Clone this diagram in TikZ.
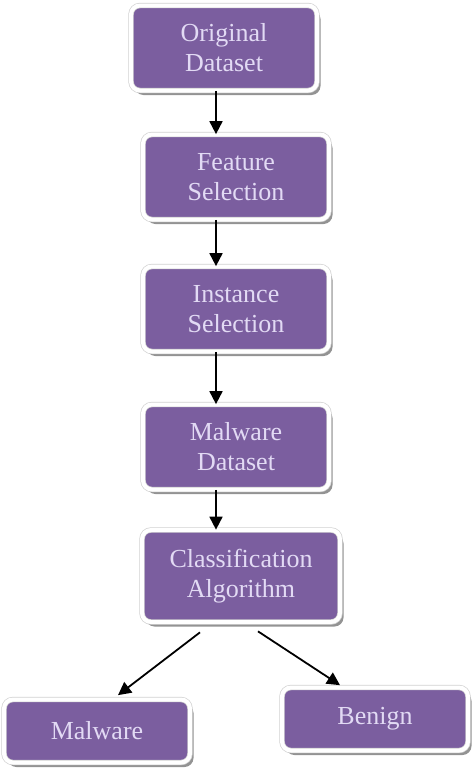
\documentclass[tikz,border=0pt]{standalone}
\usepackage{fontspec}
\setmainfont{Liberation Serif}
\usepackage{tikz}
\usetikzlibrary{arrows.meta, positioning, shadows}
\definecolor{boxpurple}{HTML}{7B5E9F}
\definecolor{boxtext}{HTML}{E2DAF4}

\tikzset{
  stepbox/.style={rectangle, rounded corners=9pt, fill=boxpurple, draw=black!18,
    double=white, double distance=4pt, line width=0.7pt, text=boxtext,
    align=center, inner sep=2pt,
    font=\rmfamily\fontsize{26}{30}\selectfont, minimum width=186pt, minimum height=85pt,
    drop shadow={shadow xshift=3.5pt, shadow yshift=-4.5pt, fill=black!50, opacity=0.85}},
  flowarrow/.style={-{Triangle[length=13pt, width=13pt]}, line width=1.8pt, black}
}

\begin{document}
\begin{tikzpicture}[x=1pt, y=-1pt]
\useasboundingbox (0,0) rectangle (474,771);
\coordinate (axis) at (216,0);
\node[stepbox] (orig) at (224,48) {Original\\Dataset};
\node[stepbox] (feat) at (236,177) {Feature\\Selection};
\node[stepbox] (inst) at (236,309) {Instance\\Selection};
\node[stepbox] (mdata) at (236,447) {Malware\\Dataset};
\node[stepbox, minimum width=198pt, minimum height=92pt] (clf) at (241,576) {Classification\\Algorithm};
\node[stepbox, minimum height=63pt] (mal) at (97,731) {Malware};
\node[stepbox, minimum height=63pt] (ben) at (375,719) {Benign};

\draw[flowarrow] (orig.south -| axis) -- (feat.north -| axis);
\draw[flowarrow] (feat.south -| axis) -- (inst.north -| axis);
\draw[flowarrow] (inst.south -| axis) -- (mdata.north -| axis);
\draw[flowarrow] (mdata.south -| axis) -- (clf.north -| axis);
\draw[flowarrow] ([xshift=-41pt, yshift=-10pt]clf.south) -- ([xshift=21pt, yshift=4pt]mal.north);
\draw[flowarrow] ([xshift=17pt, yshift=-9pt]clf.south) -- ([xshift=-35pt, yshift=2pt]ben.north);
\end{tikzpicture}
\end{document}
